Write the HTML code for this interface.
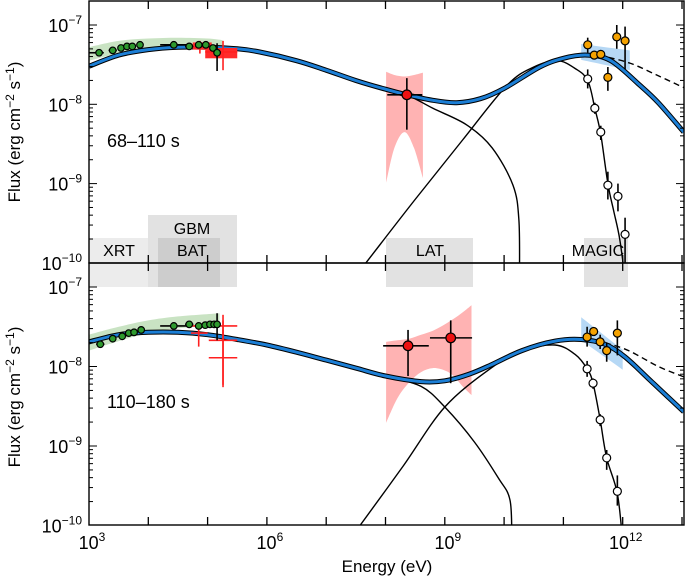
<!DOCTYPE html>
<html><head><meta charset="utf-8"><style>
html,body{margin:0;padding:0;background:#fff;}
svg{display:block;font-family:"Liberation Sans",Arial,sans-serif;}
</style></head><body>
<svg id="fig" width="685" height="576" viewBox="0 0 685 576" xmlns="http://www.w3.org/2000/svg">
<defs>
<clipPath id="clipTop"><rect x="89" y="1" width="595" height="262"/></clipPath>
<clipPath id="clipBot"><rect x="89" y="263" width="595" height="262"/></clipPath>
</defs>
<g id="bands">
<rect x="89" y="238" width="59" height="49" fill="#ececec"/>
<rect x="148" y="215" width="89" height="72" fill="#e2e2e2"/>
<rect x="158" y="238" width="62" height="49" fill="#cdcdcd"/>
<rect x="386" y="238" width="87" height="49" fill="#e2e2e2"/>
<rect x="584" y="238" width="44" height="49" fill="#e2e2e2"/>
<text x="119" y="256" font-size="16" text-anchor="middle">XRT</text>
<text x="192" y="234" font-size="16" text-anchor="middle">GBM</text>
<text x="192" y="256" font-size="16" text-anchor="middle">BAT</text>
<text x="430" y="256" font-size="16" text-anchor="middle">LAT</text>
<text x="598" y="256" font-size="16" text-anchor="middle">MAGIC</text>
</g>
<g id="top" clip-path="url(#clipTop)"></g>
<g id="bot" clip-path="url(#clipBot)"></g>
<g id="axes"></g>
<text x="107" y="147" font-size="18">68–110 s</text>
<text x="107" y="408" font-size="18">110–180 s</text>
<text transform="translate(20,132) rotate(-90)" font-size="17" text-anchor="middle">Flux (erg cm<tspan dy="-6" font-size="12">−2</tspan><tspan dy="6"> s</tspan><tspan dy="-6" font-size="12">−1</tspan><tspan dy="6">)</tspan></text>
<text transform="translate(20,397) rotate(-90)" font-size="17" text-anchor="middle">Flux (erg cm<tspan dy="-6" font-size="12">−2</tspan><tspan dy="6"> s</tspan><tspan dy="-6" font-size="12">−1</tspan><tspan dy="6">)</tspan></text>
<text x="387" y="572" font-size="17" text-anchor="middle">Energy (eV)</text>
</svg>
<script>
// ---- data (log10 E [eV], log10 F [erg cm-2 s-1]) ----
const xTickExps = [3, 6, 9, 12];
const yTickExps = [-7, -8, -9, -10];
// top panel (68-110 s)
const topTotalE = [3,3.5,4,4.5,5,5.5,5.88,6.5,7,7.5,8,8.36,8.8,9.2,9.6,10,10.6,11,11.4,11.8,12.29,12.6,13.03];
const topTotalF = [-7.52,-7.38,-7.31,-7.28,-7.28,-7.30,-7.34,-7.45,-7.57,-7.70,-7.81,-7.88,-7.95,-7.98,-7.93,-7.80,-7.53,-7.42,-7.38,-7.45,-7.76,-7.98,-8.35];
const topSyncE = [3,3.5,4,4.5,5,5.5,5.88,6.5,7,7.5,8,8.36,8.8,9.37,9.8,10.15,10.25,10.26];
const topSyncF = [-7.52,-7.38,-7.31,-7.28,-7.28,-7.30,-7.34,-7.45,-7.57,-7.70,-7.81,-7.88,-8.05,-8.26,-8.55,-9.02,-9.46,-10.2];
const topIcE = [7.67,8.5,9.3,10.05,10.5,10.9,11.2,11.41,11.53,11.63,11.75,11.85,11.95,12.04];
const topIcF = [-10,-9.2,-8.45,-7.76,-7.53,-7.45,-7.55,-7.70,-8.05,-8.38,-9.0,-9.35,-9.7,-10.2];
const topDashE = [11.6,12.12,12.6,13.03];
const topDashF = [-7.38,-7.48,-7.64,-7.79];
const topGreenBandE = [3,3.5,4,4.5,5,5.25];
const topGreenBandHi = [-7.28,-7.2,-7.17,-7.16,-7.17,-7.19];
const topGreenBandLo = [-7.45,-7.36,-7.32,-7.3,-7.31,-7.33];
const topLatBandE = [8.01,8.15,8.32,8.48,8.63];
const topLatBandHi = [-7.59,-7.63,-7.65,-7.63,-7.6];
const topLatBandLo = [-8.99,-8.55,-8.35,-8.55,-8.93];
const topMagicBandE = [11.3,12.12];
const topMagicBandHi = [-7.24,-7.32];
const topMagicBandLo = [-7.44,-7.57];
const topGreenE = [3.17,3.40,3.54,3.64,3.73,3.86,4.43,4.69,4.85,4.97,5.09,5.16];
const topGreenELo = [3.0,3.33,3.48,3.59,3.69,3.8,4.2,4.62,4.79,4.92,5.05,5.13];
const topGreenEHi = [3.25,3.47,3.6,3.69,3.78,3.92,4.67,4.76,4.92,5.03,5.13,5.2];
const topGreenF = [-7.35,-7.32,-7.29,-7.27,-7.27,-7.25,-7.25,-7.27,-7.25,-7.25,-7.29,-7.35];
const topGreenFLo = [-7.35,-7.32,-7.29,-7.27,-7.27,-7.25,-7.25,-7.27,-7.25,-7.25,-7.33,-7.58];
const topGreenFHi = [-7.35,-7.32,-7.29,-7.27,-7.27,-7.25,-7.25,-7.27,-7.25,-7.25,-7.25,-7.23];
const topBatBoxELo = [4.75,4.96];
const topBatBoxEHi = [5.07,5.5];
const topBatBoxFHi = [-7.22,-7.29];
const topBatBoxFLo = [-7.31,-7.42];
const topBatE = [4.87,5.26];
const topBatELo = [4.74,4.96];
const topBatEHi = [5.07,5.5];
const topBatF = [-7.28,-7.34];
const topBatFLo = [-7.36,-7.57];
const topBatFHi = [-7.2,-7.2];
const topLatE = [8.36];
const topLatELo = [8.03];
const topLatEHi = [8.62];
const topLatF = [-7.88];
const topLatFLo = [-8.32];
const topLatFHi = [-7.67];
const topOrangeE = [11.41,11.52,11.63,11.75,11.9,12.04];
const topOrangeF = [-7.25,-7.38,-7.37,-7.66,-7.15,-7.2];
const topOrangeFLo = [-7.35,-7.38,-7.37,-7.83,-7.3,-7.56];
const topOrangeFHi = [-7.16,-7.38,-7.37,-7.53,-7.0,-7.02];
const topOpenE = [11.41,11.53,11.63,11.75,11.92,12.04];
const topOpenF = [-7.68,-8.05,-8.35,-9.02,-9.16,-9.64];
const topOpenFLo = [-7.8,-8.12,-8.45,-9.2,-9.35,-10.1];
const topOpenFHi = [-7.56,-7.98,-8.27,-8.85,-9.0,-9.43];
// bottom panel (110-180 s)
const botTotalE = [3,3.5,4,4.5,5,5.5,6,6.5,7,7.5,8,8.6,9,9.4,9.78,10.3,10.86,11.3,11.7,12.04,12.5,13.03];
const botTotalF = [-7.69,-7.6,-7.57,-7.57,-7.6,-7.66,-7.73,-7.82,-7.92,-8.02,-8.12,-8.19,-8.18,-8.1,-7.98,-7.8,-7.68,-7.66,-7.72,-7.88,-8.2,-8.57];
const botSyncE = [3,3.5,4,4.5,5,5.5,6,6.5,7,7.5,8,8.6,9,9.5,9.9,10.1,10.13];
const botSyncF = [-7.69,-7.6,-7.57,-7.57,-7.6,-7.66,-7.73,-7.82,-7.92,-8.02,-8.12,-8.25,-8.51,-8.95,-9.4,-9.68,-10.2];
const botIcE = [7.57,8.3,9.0,9.78,10.3,10.86,11.2,11.4,11.5,11.62,11.73,11.91,12.0];
const botIcF = [-10,-9.25,-8.51,-8.02,-7.8,-7.73,-7.85,-8.03,-8.21,-8.67,-9.15,-9.6,-10.2];
const botDashE = [11.7,12.1,12.6,13.03];
const botDashF = [-7.7,-7.8,-8.0,-8.13];
const botGreenBandE = [3,3.5,4,4.5,5.2];
const botGreenBandHi = [-7.6,-7.5,-7.42,-7.37,-7.33];
const botGreenBandLo = [-7.8,-7.68,-7.58,-7.52,-7.48];
const botLatBandE = [8.01,8.2,8.4,8.6,8.8,9.0,9.15,9.3,9.45];
const botLatBandHi = [-7.69,-7.67,-7.65,-7.6,-7.55,-7.47,-7.40,-7.32,-7.23];
const botLatBandLo = [-8.71,-8.4,-8.2,-8.07,-8.02,-8.05,-8.12,-8.25,-8.36];
const botMagicBandE = [11.3,12.0];
const botMagicBandHi = [-7.38,-7.79];
const botMagicBandLo = [-7.67,-8.04];
const botGreenE = [3.19,3.40,3.56,3.67,3.76,3.88,4.43,4.69,4.85,4.96,5.04,5.11,5.16];
const botGreenELo = [3.12,3.34,3.5,3.62,3.72,3.82,4.2,4.62,4.8,4.92,5.0,5.08,5.13];
const botGreenEHi = [3.26,3.46,3.62,3.72,3.8,3.94,4.67,4.76,4.9,5.0,5.08,5.14,5.2];
const botGreenF = [-7.72,-7.65,-7.62,-7.58,-7.57,-7.54,-7.49,-7.47,-7.49,-7.48,-7.47,-7.47,-7.47];
const botGreenFLo = [-7.72,-7.65,-7.62,-7.58,-7.57,-7.54,-7.49,-7.47,-7.49,-7.48,-7.47,-7.5,-7.67];
const botGreenFHi = [-7.72,-7.65,-7.62,-7.58,-7.57,-7.54,-7.49,-7.47,-7.49,-7.48,-7.47,-7.44,-7.33];
const botBatBoxELo = [];
const botBatBoxEHi = [];
const botBatBoxFHi = [];
const botBatBoxFLo = [];
const botBatE = [4.85,5.26,5.26,5.26];
const botBatELo = [4.72,4.74,5.02,5.02];
const botBatEHi = [5.0,5.5,5.5,5.5];
const botBatF = [-7.58,-7.49,-7.67,-7.89];
const botBatFLo = [-7.75,-7.6,-8.23,-8.26];
const botBatFHi = [-7.52,-7.35,-7.42,-7.54];
const botLatE = [8.38,9.1];
const botLatELo = [7.96,8.75];
const botLatEHi = [8.73,9.46];
const botLatF = [-7.74,-7.64];
const botLatFLo = [-8.12,-8.21];
const botLatFHi = [-7.54,-7.42];
const botOrangeE = [11.40,11.51,11.62,11.73,11.91];
const botOrangeF = [-7.63,-7.56,-7.69,-7.8,-7.58];
const botOrangeFLo = [-7.75,-7.56,-7.78,-7.94,-7.86];
const botOrangeFHi = [-7.5,-7.56,-7.6,-7.7,-7.42];
const botOpenE = [11.40,11.50,11.62,11.73,11.91];
const botOpenF = [-8.03,-8.21,-8.67,-9.15,-9.57];
const botOpenFLo = [-8.13,-8.28,-8.75,-9.3,-9.75];
const botOpenFHi = [-7.93,-8.15,-8.6,-9.05,-9.37];

const NS = "http://www.w3.org/2000/svg";
const X0 = 89, X1 = 684, DEC = 59.3;
function xs(e){ return X0 + (e - 3) * DEC; }
function panel(topPix, decPix){ return function(f){ return topPix + (-7 - f) * decPix; }; }
const ysTop = panel(25, 79.3);
const ysBot = panel(287, 79.5);

function mk(tag, attrs, parent){
  const el = document.createElementNS(NS, tag);
  for (const k in attrs) el.setAttribute(k, attrs[k]);
  parent.appendChild(el);
  return el;
}
function smoothPath(pts){
  let d = "M" + pts[0][0].toFixed(1) + "," + pts[0][1].toFixed(1);
  for (let i = 0; i < pts.length - 1; i++){
    const p0 = pts[Math.max(i-1,0)], p1 = pts[i], p2 = pts[i+1], p3 = pts[Math.min(i+2,pts.length-1)];
    const c1 = [p1[0] + (p2[0]-p0[0])/6, p1[1] + (p2[1]-p0[1])/6];
    const c2 = [p2[0] - (p3[0]-p1[0])/6, p2[1] - (p3[1]-p1[1])/6];
    d += "C" + c1[0].toFixed(1)+","+c1[1].toFixed(1)+" "+c2[0].toFixed(1)+","+c2[1].toFixed(1)+" "+p2[0].toFixed(1)+","+p2[1].toFixed(1);
  }
  return d;
}
function curvePts(E, F, ys){ return E.map((e,i) => [xs(e), ys(F[i])]); }
function line(g, E, F, ys, style, name){
  const p = mk("path", {d: smoothPath(curvePts(E,F,ys)), fill:"none"}, g);
  for (const k in style) p.setAttribute(k, style[k]);
  
  
}
function band(g, E, hi, lo, ys, fill, name){
  const up = curvePts(E, hi, ys);
  const dn = curvePts(E, lo, ys).reverse();
  const sd = smoothPath(dn);
  let d = smoothPath(up) + "L" + dn[0][0].toFixed(1) + "," + dn[0][1].toFixed(1) + (sd.indexOf("C") >= 0 ? sd.slice(sd.indexOf("C")) : "");
  const p = mk("path", {d: d + "Z", fill: fill, stroke:"none"}, g);
  
  
}
function boxes(g, ELo, EHi, FLo, FHi, ys, fill, name){
  for (let i = 0; i < ELo.length; i++){
    const r = mk("rect", {x: xs(ELo[i]), y: ys(FHi[i]), width: xs(EHi[i]) - xs(ELo[i]), height: ys(FLo[i]) - ys(FHi[i]), fill: fill}, g);
    
    
  }
}
function errbars(g, E, F, FLo, FHi, ys, ELo, EHi, color, w, name){
  for (let i = 0; i < E.length; i++){
    const v = mk("line", {x1: xs(E[i]), x2: xs(E[i]), y1: ys(FLo[i]), y2: ys(FHi[i]), stroke: color, "stroke-width": w}, g);
    
    
    if (ELo){
      const h = mk("line", {x1: xs(ELo[i]), x2: xs(EHi[i]), y1: ys(F[i]), y2: ys(F[i]), stroke: color, "stroke-width": w}, g);
      
      
    }
  }
}
function dots(g, E, F, ys, r, fill, name){
  for (let i = 0; i < E.length; i++){
    const c = mk("circle", {cx: xs(E[i]), cy: ys(F[i]), r: r, fill: fill, stroke:"#000", "stroke-width":1.2}, g);
    
    
  }
}
function drawPanel(g, ys, D){
  band(g, D.gbE, D.gbHi, D.gbLo, ys, "#c9e3c3", "xray-model-band");
  band(g, D.lbE, D.lbHi, D.lbLo, ys, "#ffb3b3", "lat-butterfly-band");
  band(g, D.mbE, D.mbHi, D.mbLo, ys, "#b6d8f5", "magic-butterfly-band");
  line(g, D.syE, D.syF, ys, {stroke:"#000","stroke-width":1.4}, "synchrotron-component");
  line(g, D.icE, D.icF, ys, {stroke:"#000","stroke-width":1.4}, "inverse-compton-component");
  line(g, D.dsE, D.dsF, ys, {stroke:"#000","stroke-width":1.4,"stroke-dasharray":"6,4"}, "intrinsic-ic-dashed");
  line(g, D.ttE, D.ttF, ys, {stroke:"#000","stroke-width":5}, "total-model-outline");
  line(g, D.ttE, D.ttF, ys, {stroke:"#1c7fd6","stroke-width":3}, "total-model");
  boxes(g, D.bbELo, D.bbEHi, D.bbFLo, D.bbFHi, ys, "#ff2a2a", "bat-error-box");
  errbars(g, D.baE, D.baF, D.baFLo, D.baFHi, ys, D.baELo, D.baEHi, "#ff2020", 1.6, "bat-point");
  errbars(g, D.grE, D.grF, D.grFLo, D.grFHi, ys, D.grELo, D.grEHi, "#000", 1.6, "xrt-point");
  errbars(g, D.laE, D.laF, D.laFLo, D.laFHi, ys, D.laELo, D.laEHi, "#000", 1.6, "lat-point");
  errbars(g, D.orE, D.orF, D.orFLo, D.orFHi, ys, null, null, "#000", 1.6, "magic-observed");
  errbars(g, D.opE, D.opF, D.opFLo, D.opFHi, ys, null, null, "#000", 1.6, "magic-deabsorbed");
  dots(g, D.grE, D.grF, ys, 3.3, "#2e9a2e", "xrt-point");
  dots(g, D.laE, D.laF, ys, 4.8, "#ee1111", "lat-point");
  dots(g, D.orE, D.orF, ys, 4, "#f5a200", "magic-intrinsic-point");
  dots(g, D.opE, D.opF, ys, 4, "#ffffff", "magic-observed-point");
}
drawPanel(document.getElementById("top"), ysTop, {
  gbE:topGreenBandE,gbHi:topGreenBandHi,gbLo:topGreenBandLo,
  lbE:topLatBandE,lbHi:topLatBandHi,lbLo:topLatBandLo,
  mbE:topMagicBandE,mbHi:topMagicBandHi,mbLo:topMagicBandLo,
  syE:topSyncE,syF:topSyncF,icE:topIcE,icF:topIcF,dsE:topDashE,dsF:topDashF,ttE:topTotalE,ttF:topTotalF,
  bbELo:topBatBoxELo,bbEHi:topBatBoxEHi,bbFLo:topBatBoxFLo,bbFHi:topBatBoxFHi,
  baE:topBatE,baF:topBatF,baFLo:topBatFLo,baFHi:topBatFHi,baELo:topBatELo,baEHi:topBatEHi,
  laE:topLatE,laF:topLatF,laFLo:topLatFLo,laFHi:topLatFHi,laELo:topLatELo,laEHi:topLatEHi,
  orE:topOrangeE,orF:topOrangeF,orFLo:topOrangeFLo,orFHi:topOrangeFHi,
  opE:topOpenE,opF:topOpenF,opFLo:topOpenFLo,opFHi:topOpenFHi,
  grE:topGreenE,grF:topGreenF,grFLo:topGreenFLo,grFHi:topGreenFHi,grELo:topGreenELo,grEHi:topGreenEHi});
drawPanel(document.getElementById("bot"), ysBot, {
  gbE:botGreenBandE,gbHi:botGreenBandHi,gbLo:botGreenBandLo,
  lbE:botLatBandE,lbHi:botLatBandHi,lbLo:botLatBandLo,
  mbE:botMagicBandE,mbHi:botMagicBandHi,mbLo:botMagicBandLo,
  syE:botSyncE,syF:botSyncF,icE:botIcE,icF:botIcF,dsE:botDashE,dsF:botDashF,ttE:botTotalE,ttF:botTotalF,
  bbELo:botBatBoxELo,bbEHi:botBatBoxEHi,bbFLo:botBatBoxFLo,bbFHi:botBatBoxFHi,
  baE:botBatE,baF:botBatF,baFLo:botBatFLo,baFHi:botBatFHi,baELo:botBatELo,baEHi:botBatEHi,
  laE:botLatE,laF:botLatF,laFLo:botLatFLo,laFHi:botLatFHi,laELo:botLatELo,laEHi:botLatEHi,
  orE:botOrangeE,orF:botOrangeF,orFLo:botOrangeFLo,orFHi:botOrangeFHi,
  opE:botOpenE,opF:botOpenF,opFLo:botOpenFLo,opFHi:botOpenFHi,
  grE:botGreenE,grF:botGreenF,grFLo:botGreenFLo,grFHi:botGreenFHi,grELo:botGreenELo,grEHi:botGreenEHi});

// axes
const ax = document.getElementById("axes");
function axesFor(ys, yTop, yBot, tag){
  const fr = mk("rect", {x:X0, y:yTop, width:X1-X0, height:yBot-yTop, fill:"none", stroke:"#000", "stroke-width":1.4}, ax);
  
  
  for (let e = 4; e <= 13; e++){
    const x = xs(e);
    if (x > X1 - 2) continue;
    const t1 = mk("line", {x1:x,x2:x,y1:yTop,y2:yTop+8,stroke:"#000","stroke-width":1.3}, ax);
    
    
    const t2 = mk("line", {x1:x,x2:x,y1:yBot,y2:yBot-8,stroke:"#000","stroke-width":1.3}, ax);
    
    
  }
  for (let d = -7; d >= -10; d--){
    for (let m = 1; m <= 9; m++){
      const y = ys(d + Math.log10(m));
      if (y < yTop + 1 || y > yBot - 1) continue;
      const L = m === 1 ? 8 : 4;
      const a = mk("line", {x1:X0,x2:X0+L,y1:y,y2:y,stroke:"#000","stroke-width":1}, ax);
      
      
      const b = mk("line", {x1:X1,x2:X1-L,y1:y,y2:y,stroke:"#000","stroke-width":1}, ax);
      
      
    }
  }
  yTickExps.forEach(function(d){
    const y = ys(d);
    const t = mk("text", {x: 82, y: y + 7, "font-size": 18, "text-anchor":"end"}, ax);
    
    
    const s1 = mk("tspan", {}, t); s1.textContent = "10";
    const s2 = mk("tspan", {dy:-8, "font-size":12}, t); s2.textContent = "−" + (-d);
  });
}
axesFor(ysTop, 1, 263, "top");
axesFor(ysBot, 263, 525, "bottom");
xTickExps.forEach(function(e){
  const t = mk("text", {x: xs(e) + 3, y: 549, "font-size": 18, "text-anchor":"middle"}, ax);
  
  
  const s1 = mk("tspan", {}, t); s1.textContent = "10";
  const s2 = mk("tspan", {dy:-8, "font-size":12}, t); s2.textContent = String(e);
});
</script>
</body></html>
